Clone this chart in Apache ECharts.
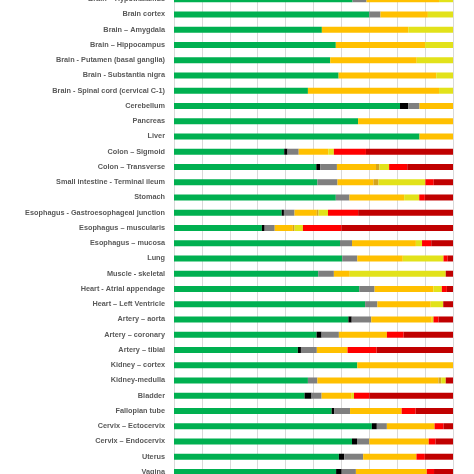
<!DOCTYPE html>
<html>
<head>
    <meta charset="utf-8">
    <title>ECharts</title>
    <script src="https://cdn.jsdelivr.net/npm/echarts@6/dist/echarts.min.js"></script>
    <style>
        html, body { margin: 0; padding: 0; background: #fff; }
    </style>
</head>
<body>
    <div id="main" style="width: 474px;height:474px;"></div>
    <script>
        var tissues = [
            'Brain – Hypothalamus', 'Brain cortex', 'Brain – Amygdala', 'Brain – Hippocampus',
            'Brain - Putamen (basal ganglia)', 'Brain - Substantia nigra', 'Brain - Spinal cord (cervical C-1)',
            'Cerebellum', 'Pancreas', 'Liver', 'Colon – Sigmoid', 'Colon – Transverse',
            'Small intestine - Terminal ileum', 'Stomach', 'Esophagus - Gastroesophageal junction',
            'Esophagus – muscularis', 'Esophagus – mucosa', 'Lung', 'Muscle - skeletal',
            'Heart - Atrial appendage', 'Heart – Left Ventricle', 'Artery – aorta', 'Artery – coronary',
            'Artery – tibial', 'Kidney – cortex', 'Kidney-medulla', 'Bladder', 'Fallopian tube',
            'Cervix – Ectocervix', 'Cervix – Endocervix', 'Uterus', 'Vagina'
        ];

        // percent of each bar, one array per colour
        var greenVals   = [64, 70, 53, 58, 56, 59, 48, 81, 66, 88, 39.5, 51, 51.4, 58, 38.6, 31.5, 59.5, 60.3, 51.7, 66.4, 68.5, 62.5, 51.1, 44.4, 65.7, 48, 46.8, 56.5, 70.9, 63.8, 59.1, 58.1];
        var blackVals   = [0, 0, 0, 0, 0, 0, 0, 3, 0, 0, 1.2, 1.4, 0, 0, 0.8, 1, 0, 0, 0, 0, 0, 1.2, 1.8, 1.1, 0, 0, 2.5, 1, 1.8, 1.8, 1.9, 2];
        var grayVals    = [5, 4, 0, 0, 0, 0, 0, 4, 0, 0, 4, 6, 7.2, 4.9, 3.8, 3.6, 4.3, 5.4, 5.6, 5.5, 4.4, 7, 6.2, 5.7, 0, 3.4, 3.6, 5.6, 3.6, 4.4, 6.8, 5.1];
        var orangeVals  = [26, 17, 31, 32, 31, 35, 47, 12, 34, 12, 10.6, 14, 12.9, 19.6, 8, 6.5, 22.9, 16.3, 5.7, 21.1, 19.1, 21.7, 17.2, 11, 34.3, 43.4, 10.8, 18.5, 17.1, 21.3, 19.1, 25.4];
        var goldVals    = [0, 0, 0, 0, 0, 0, 0, 0, 0, 0, 0, 1.2, 1.8, 0, 0.6, 0.6, 0, 0, 0, 0, 0, 0, 0, 0, 0, 1, 0, 0, 0, 0, 0, 0];
        var yellowVals  = [5, 9, 16, 10, 13, 6, 5, 0, 0, 0, 2, 3.5, 16.8, 5.4, 3.4, 3, 2.2, 14.6, 34.4, 3, 4.5, 0.6, 0, 0, 0, 1.6, 0.8, 0, 0, 0, 0, 0];
        var redVals     = [0, 0, 0, 0, 0, 0, 0, 0, 0, 0, 11.5, 6.5, 3, 2, 10.8, 13.8, 3.3, 1.5, 0, 1.8, 0, 1.8, 6, 10.4, 0, 0, 5.5, 5, 3.2, 2.4, 3, 2.6];
        var darkRedVals = [0, 0, 0, 0, 0, 0, 0, 0, 0, 0, 31.2, 16.4, 6.9, 10.1, 34, 40, 7.8, 1.9, 2.6, 2.2, 3.5, 5.2, 17.7, 27.4, 0, 2.6, 30, 13.4, 3.4, 6.3, 10.1, 6.8];

        var layers = [
            ['green', '#00B050', greenVals],
            ['black', '#000000', blackVals],
            ['gray', '#7F7F7F', grayVals],
            ['orange', '#FFC000', orangeVals],
            ['gold', '#D4A41C', goldVals],
            ['yellow', '#E2E21A', yellowVals],
            ['red', '#FF0000', redVals],
            ['darkred', '#C00000', darkRedVals]
        ];

        var myChart = echarts.init(document.getElementById('main'));

        var option = {
            animation: false,
            grid: {
                left: 174,
                right: 21,
                top: -8.4,
                bottom: -5.6,
                containLabel: false,
                outerBoundsMode: 'none'
            },
            xAxis: {
                type: 'value',
                min: 0,
                max: 100,
                interval: 10,
                axisLabel: { show: false },
                axisLine: { show: false },
                axisTick: { show: false },
                splitLine: { lineStyle: { color: '#D9D9D9', width: 1 } }
            },
            yAxis: {
                type: 'category',
                inverse: true,
                data: tissues,
                axisLine: { show: false },
                axisTick: { show: false },
                axisLabel: {
                    margin: 9,
                    fontSize: 7.3,
                    fontWeight: 'bold',
                    fontFamily: 'Liberation Sans, Arial, sans-serif',
                    color: '#595959',
                    interval: 0
                }
            },
            series: layers.map(function (l) {
                return {
                    name: l[0],
                    type: 'bar',
                    stack: 'total',
                    barWidth: 6,
                    itemStyle: { color: l[1] },
                    data: l[2]
                };
            })
        };

        myChart.setOption(option);
    </script>
</body>
</html>
